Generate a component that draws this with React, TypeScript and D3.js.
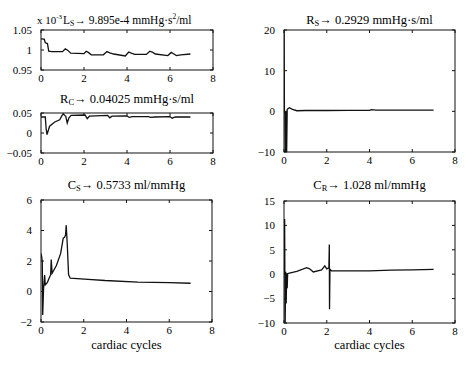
import * as React from 'react';
import * as d3 from 'd3';

type Pt = [number, number];

const xTicks = [0, 2, 4, 6, 8];

// L_S (x 10^-3)
const lsData: Pt[] = [
  [0, 1.028], [0.15, 1.027], [0.2, 1.018], [0.3, 1.016], [0.36, 0.997], [0.5, 0.996], [1.0, 0.996],
  [1.13, 1.003], [1.25, 0.999], [1.38, 0.992], [2.0, 0.991], [2.1, 0.997], [2.2, 0.994], [2.34, 0.988],
  [2.9, 0.988], [3.07, 0.996], [3.2, 0.993], [3.38, 0.99], [3.92, 0.985], [4.08, 0.995], [4.2, 0.992],
  [4.36, 0.989], [4.9, 0.989], [5.06, 0.997], [5.2, 0.994], [5.32, 0.99], [5.9, 0.986], [6.06, 0.994],
  [6.18, 0.99], [6.3, 0.986], [6.5, 0.988], [6.95, 0.99],
];
const lsTicks = [0.95, 1, 1.05];

const rcData: Pt[] = [
  [0, 0.04], [0.2, 0.04], [0.24, 0.01], [0.28, -0.004], [0.33, 0.005], [0.4, 0.017], [0.64, 0.0275],
  [0.87, 0.033], [0.98, 0.044], [1.04, 0.048], [1.1, 0.044], [1.15, 0.042], [1.22, 0.025], [1.3, 0.038],
  [1.4, 0.044], [2.05, 0.045], [2.15, 0.036], [2.25, 0.042], [3.1, 0.044], [3.2, 0.038], [3.3, 0.042],
  [4.0, 0.043], [4.1, 0.039], [4.25, 0.041], [5.0, 0.041], [5.1, 0.039], [5.3, 0.04], [6.0, 0.041],
  [6.1, 0.037], [6.25, 0.04], [6.95, 0.04],
];
const rcTicks = [-0.05, 0, 0.05];

const csData: Pt[] = [
  [0, 2.5], [0.04, 2.2], [0.06, 1.95], [0.08, -1.54], [0.12, 0.2], [0.17, 1.08], [0.2, 0.43], [0.3, 0.6],
  [0.45, 1.1], [0.48, 2.1], [0.52, 1.2], [0.72, 1.7], [0.92, 2.5], [1.04, 3.5], [1.1, 3.55], [1.15, 3.7],
  [1.18, 4.35], [1.23, 3.05], [1.29, 1.1], [1.37, 0.87], [2.2, 0.8], [3.0, 0.72], [4.53, 0.62], [6.0, 0.58],
  [7.0, 0.54],
];
const csTicks = [-2, 0, 2, 4, 6];

const rsData: Pt[] = [
  [0, 25], [0.02, 0], [0.04, -0.5], [0.06, -12], [0.08, -0.5], [0.1, 0], [0.12, -12], [0.15, 0.5],
  [0.25, 0.9], [0.4, 0.5], [0.6, 0.15], [1.0, 0.2], [1.3, 0.25], [2.0, 0.2], [3.0, 0.25], [4.0, 0.25],
  [4.1, 0.4], [4.3, 0.3], [5.5, 0.3], [7.0, 0.29],
];
const rsTicks = [-10, 0, 10, 20];

const crData: Pt[] = [
  [0, 0], [0.03, 11.3], [0.05, -12], [0.08, 0.5], [0.1, -6], [0.13, 0.2], [0.15, -2.9], [0.17, 0.1],
  [0.25, 0.2], [0.6, 0.6], [1.06, 1.33], [1.2, 1.1], [1.37, 0.45], [1.76, 0.86], [1.91, 1.7], [2.0, 1.1],
  [2.1, 1.3], [2.12, 6.1], [2.13, -7.2], [2.15, 1.0], [2.22, 0.7], [3.0, 0.7], [4.0, 0.7], [5.0, 0.85],
  [6.0, 0.9], [7.0, 1.0],
];
const crTicks = [-10, -5, 0, 5, 10, 15];

const FONT = '"Liberation Serif", "Times New Roman", serif';

interface PanelProps {
  id: string;
  x0: number; x1: number; y0: number; y1: number;
  data: Pt[];
  yTicks: number[];
  sym: string;
  sub: string;
  rest: string;
  sup?: string;
  titleY: number;
  titleX?: number;
  titleSize?: number;
  xlabel?: boolean;
  multiplier?: boolean;
}

const Panel = (p: PanelProps) => {
  const x = d3.scaleLinear().domain([0, 8]).range([p.x0, p.x1]);
  const y = d3.scaleLinear().domain([p.yTicks[0], p.yTicks[p.yTicks.length - 1]]).range([p.y1, p.y0]);
  const line = d3.line<Pt>().x((d) => x(d[0])).y((d) => y(d[1]));
  const tl = 3;
  const cx = (p.x0 + p.x1) / 2;
  const fs = p.titleSize ?? 12.5;
  return (
    <g style={{ fontFamily: FONT }} fill="#000">
      <defs>
        <clipPath id={p.id}>
          <rect x={p.x0} y={p.y0} width={p.x1 - p.x0} height={p.y1 - p.y0} />
        </clipPath>
      </defs>
      <path d={line(p.data) as string} fill="none" stroke="#111" strokeWidth={1.3} clipPath={`url(#${p.id})`} />
      <rect x={p.x0} y={p.y0} width={p.x1 - p.x0} height={p.y1 - p.y0} fill="none" stroke="#111" strokeWidth={1} />
      {xTicks.map((t) => (
        <g key={'x' + t}>
          <line x1={x(t)} x2={x(t)} y1={p.y1} y2={p.y1 - tl} stroke="#111" />
          <line x1={x(t)} x2={x(t)} y1={p.y0} y2={p.y0 + tl} stroke="#111" />
          <text x={x(t)} y={p.y1 + 12} fontSize={11} textAnchor="middle">{t}</text>
        </g>
      ))}
      {p.yTicks.map((t) => (
        <g key={'y' + t}>
          <line x1={p.x0} x2={p.x0 + tl} y1={y(t)} y2={y(t)} stroke="#111" />
          <line x1={p.x1} x2={p.x1 - tl} y1={y(t)} y2={y(t)} stroke="#111" />
          <text x={p.x0 - 9} y={y(t)} dy="0.35em" fontSize={11} textAnchor="end">{d3.format('~g')(t)}</text>
        </g>
      ))}
      {p.multiplier && (
        <text x={37} y={p.titleY} fontSize={11}>
          x 10<tspan dy={-5} fontSize={7}>-3</tspan>
        </text>
      )}
      <text x={p.titleX ?? cx} y={p.titleY} fontSize={fs} textAnchor={p.titleX ? 'start' : 'middle'}>
        {p.sym}
        <tspan dy={2} fontSize={fs * 0.68}>{p.sub}</tspan>
        <tspan dy={-2}>{'\u2192 ' + p.rest}</tspan>
        {p.sup && <tspan dy={-5} fontSize={fs * 0.64}>{p.sup}</tspan>}
        {p.sup && <tspan dy={5}>/ml</tspan>}
      </text>
      {p.xlabel && (
        <text x={cx} y={349} fontSize={12.5} textAnchor="middle">cardiac cycles</text>
      )}
    </g>
  );
};

export default function App() {
  return (
    <div style={{ position: 'fixed', left: 0, top: 0 }}>
      <svg width={474} height={365} style={{ display: 'block', background: '#fff' }}>
        <Panel id="c1" x0={41} x1={213} y0={30} y1={70} data={lsData} yTicks={lsTicks}
          sym="L" sub="S" rest="9.895e-4 mmHg·s" sup="2" titleY={24} titleX={63} titleSize={11.5} multiplier />
        <Panel id="c2" x0={41} x1={213} y0={113} y1={153} data={rcData} yTicks={rcTicks}
          sym="R" sub="C" rest="0.04025 mmHg·s/ml" titleY={103} />
        <Panel id="c3" x0={41} x1={212} y0={200} y1={322} data={csData} yTicks={csTicks}
          sym="C" sub="S" rest="0.5733 ml/mmHg" titleY={189} xlabel />
        <Panel id="c4" x0={284} x1={455} y0={30} y1={152} data={rsData} yTicks={rsTicks}
          sym="R" sub="S" rest="0.2929 mmHg·s/ml" titleY={24} />
        <Panel id="c5" x0={284} x1={455} y0={201} y1={323} data={crData} yTicks={crTicks}
          sym="C" sub="R" rest="1.028 ml/mmHg" titleY={189} xlabel />
      </svg>
    </div>
  );
}
